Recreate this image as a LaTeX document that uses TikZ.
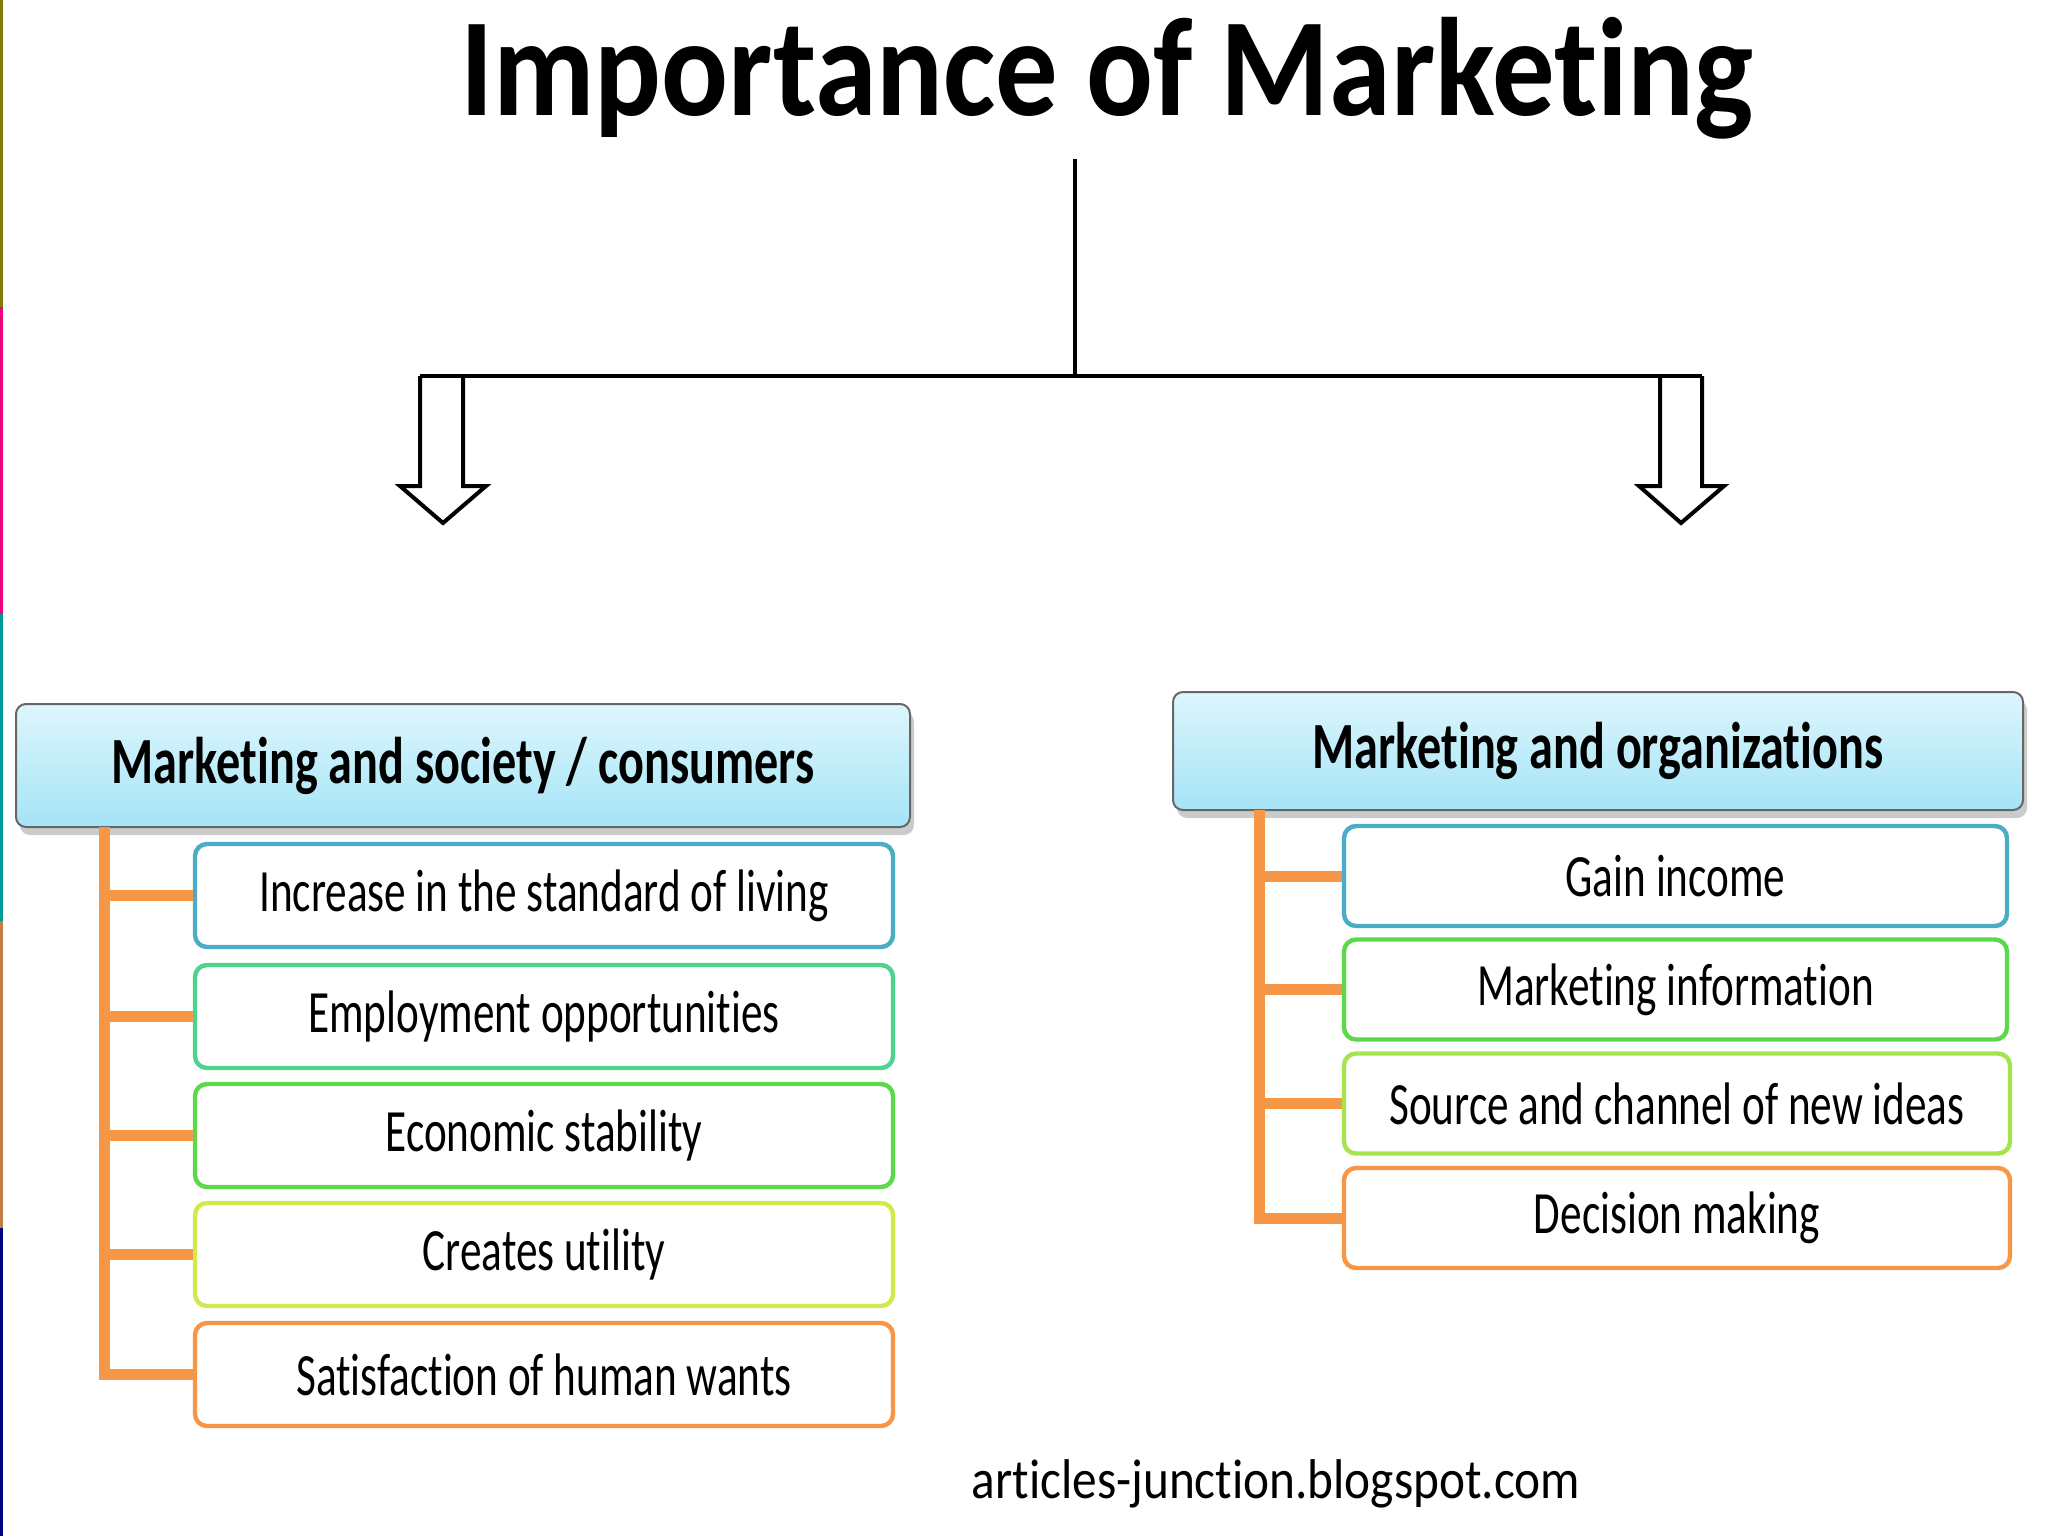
\documentclass[tikz,border=0pt]{standalone}
\usepackage{fontspec}
\setmainfont{Carlito}[Ligatures=NoCommon]
\newfontfamily\titlefont{Carlito}[FakeStretch=0.89, Ligatures=NoCommon]
\newfontfamily\itemfont{Carlito}[FakeStretch=0.72, Ligatures=NoCommon]
\newfontfamily\headfont{Carlito}[FakeStretch=0.73, Ligatures=NoCommon]
\newfontfamily\footfont{Carlito}[FakeStretch=0.88, Ligatures=NoCommon]
\usetikzlibrary{shadows}
\definecolor{orng}{HTML}{F79646}
\definecolor{bl}{HTML}{4BACC6}
\definecolor{tg}{HTML}{4CD38C}
\definecolor{gr}{HTML}{5BD94A}
\definecolor{yg}{HTML}{CFEA4A}
\definecolor{lg}{HTML}{A6E44E}
\definecolor{hdtop}{HTML}{DDF6FC}
\definecolor{hdbot}{HTML}{A5E4F7}
\begin{document}
\begin{tikzpicture}[x=0.5pt,y=-0.5pt,
  header/.style={draw=black!60, line width=1pt, rounded corners=5pt,
    top color=hdtop, bottom color=hdbot,
    drop shadow={shadow xshift=2pt, shadow yshift=-4pt, fill=black!40, opacity=0.5},
    font=\headfont\bfseries\fontsize{33}{36}\selectfont, inner sep=0pt},
  item/.style={draw=#1, line width=2.2pt, rounded corners=6pt, fill=white,
    font=\itemfont\fontsize{30}{34}\selectfont, inner sep=0pt},
  tree/.style={draw=orng, line width=5.5pt},
  blockarrow/.style={draw=black, line width=2pt, line join=miter}]
\useasboundingbox (0,0) rectangle (2048,1536);
\fill[white] (0,0) rectangle (2048,1536);
% left edge stripes
\fill[olive!90!black] (0,0) rectangle (3,307);
\fill[magenta!85!red] (0,307) rectangle (3,614);
\fill[teal!80!cyan] (0,614) rectangle (3,921);
\fill[brown] (0,921) rectangle (3,1228);
\fill[blue!50!black] (0,1228) rectangle (3,1536);

\node[font=\titlefont\bfseries\fontsize{70}{80}\selectfont, anchor=base] (title) at (1107,116) {Importance of Marketing};

% connectors
\coordinate (ctop) at (1075,159);
\coordinate (cmid) at (1075,376);
\coordinate (lft) at (420,376);
\coordinate (rgt) at (1702,376);
\draw[line width=1.6pt] (ctop) -- (cmid);
\draw[line width=1.6pt] (lft) -- (rgt);
\draw[blockarrow] (lft) -- (420,486) -- (400,486) -- (443,523) -- (486,486) -- (463,486) -- (463,376);
\draw[blockarrow] (1660,376) -- (1660,486) -- (1639,486) -- (1681,523) -- (1724,486) -- (1702,486) -- (rgt);

% headers
\node[header, minimum width=447pt, minimum height=61.5pt] (hl) at (463,765.5) {Marketing and society / consumers};
\node[header, minimum width=425pt, minimum height=59pt] (hr) at (1598,751) {Marketing and organizations};

% left items
\node[item=bl, minimum width=349pt, minimum height=51.5pt] (l1) at (544,895.5) {Increase in the standard of living};
\node[item=tg, minimum width=349pt, minimum height=51.5pt] (l2) at (544,1016.5) {Employment opportunities};
\node[item=gr, minimum width=349pt, minimum height=51.5pt] (l3) at (544,1135.5) {Economic stability};
\node[item=yg, minimum width=349pt, minimum height=51.5pt] (l4) at (544,1254.5) {Creates utility};
\node[item=orng, minimum width=349pt, minimum height=51.5pt] (l5) at (544,1374.5) {Satisfaction of human wants};

% right items
\node[item=bl, minimum width=331.5pt, minimum height=50pt] (r1) at (1675.5,876) {Gain income};
\node[item=gr, minimum width=331.5pt, minimum height=50pt] (r2) at (1675.5,989.5) {Marketing information};
\node[item=lg, minimum width=333pt, minimum height=50pt] (r3) at (1677,1103.5) {Source and channel of new ideas};
\node[item=orng, minimum width=333pt, minimum height=50pt] (r4) at (1677,1218) {Decision making};

% trees
\coordinate (ltr) at (104,827);
\draw[tree] (ltr) -- (ltr |- l5.west) -- (l5.west);
\foreach \n in {l1,l2,l3,l4} \draw[tree] (ltr |- \n.west) -- (\n.west);
\coordinate (rtr) at (1259,810);
\draw[tree] (rtr) -- (rtr |- r4.west) -- (r4.west);
\foreach \n in {r1,r2,r3} \draw[tree] (rtr |- \n.west) -- (\n.west);

\node[font=\footfont\fontsize{28}{32}\selectfont] (foot) at (1276,1484) {articles-junction.blogspot.com};
\end{tikzpicture}
\end{document}
